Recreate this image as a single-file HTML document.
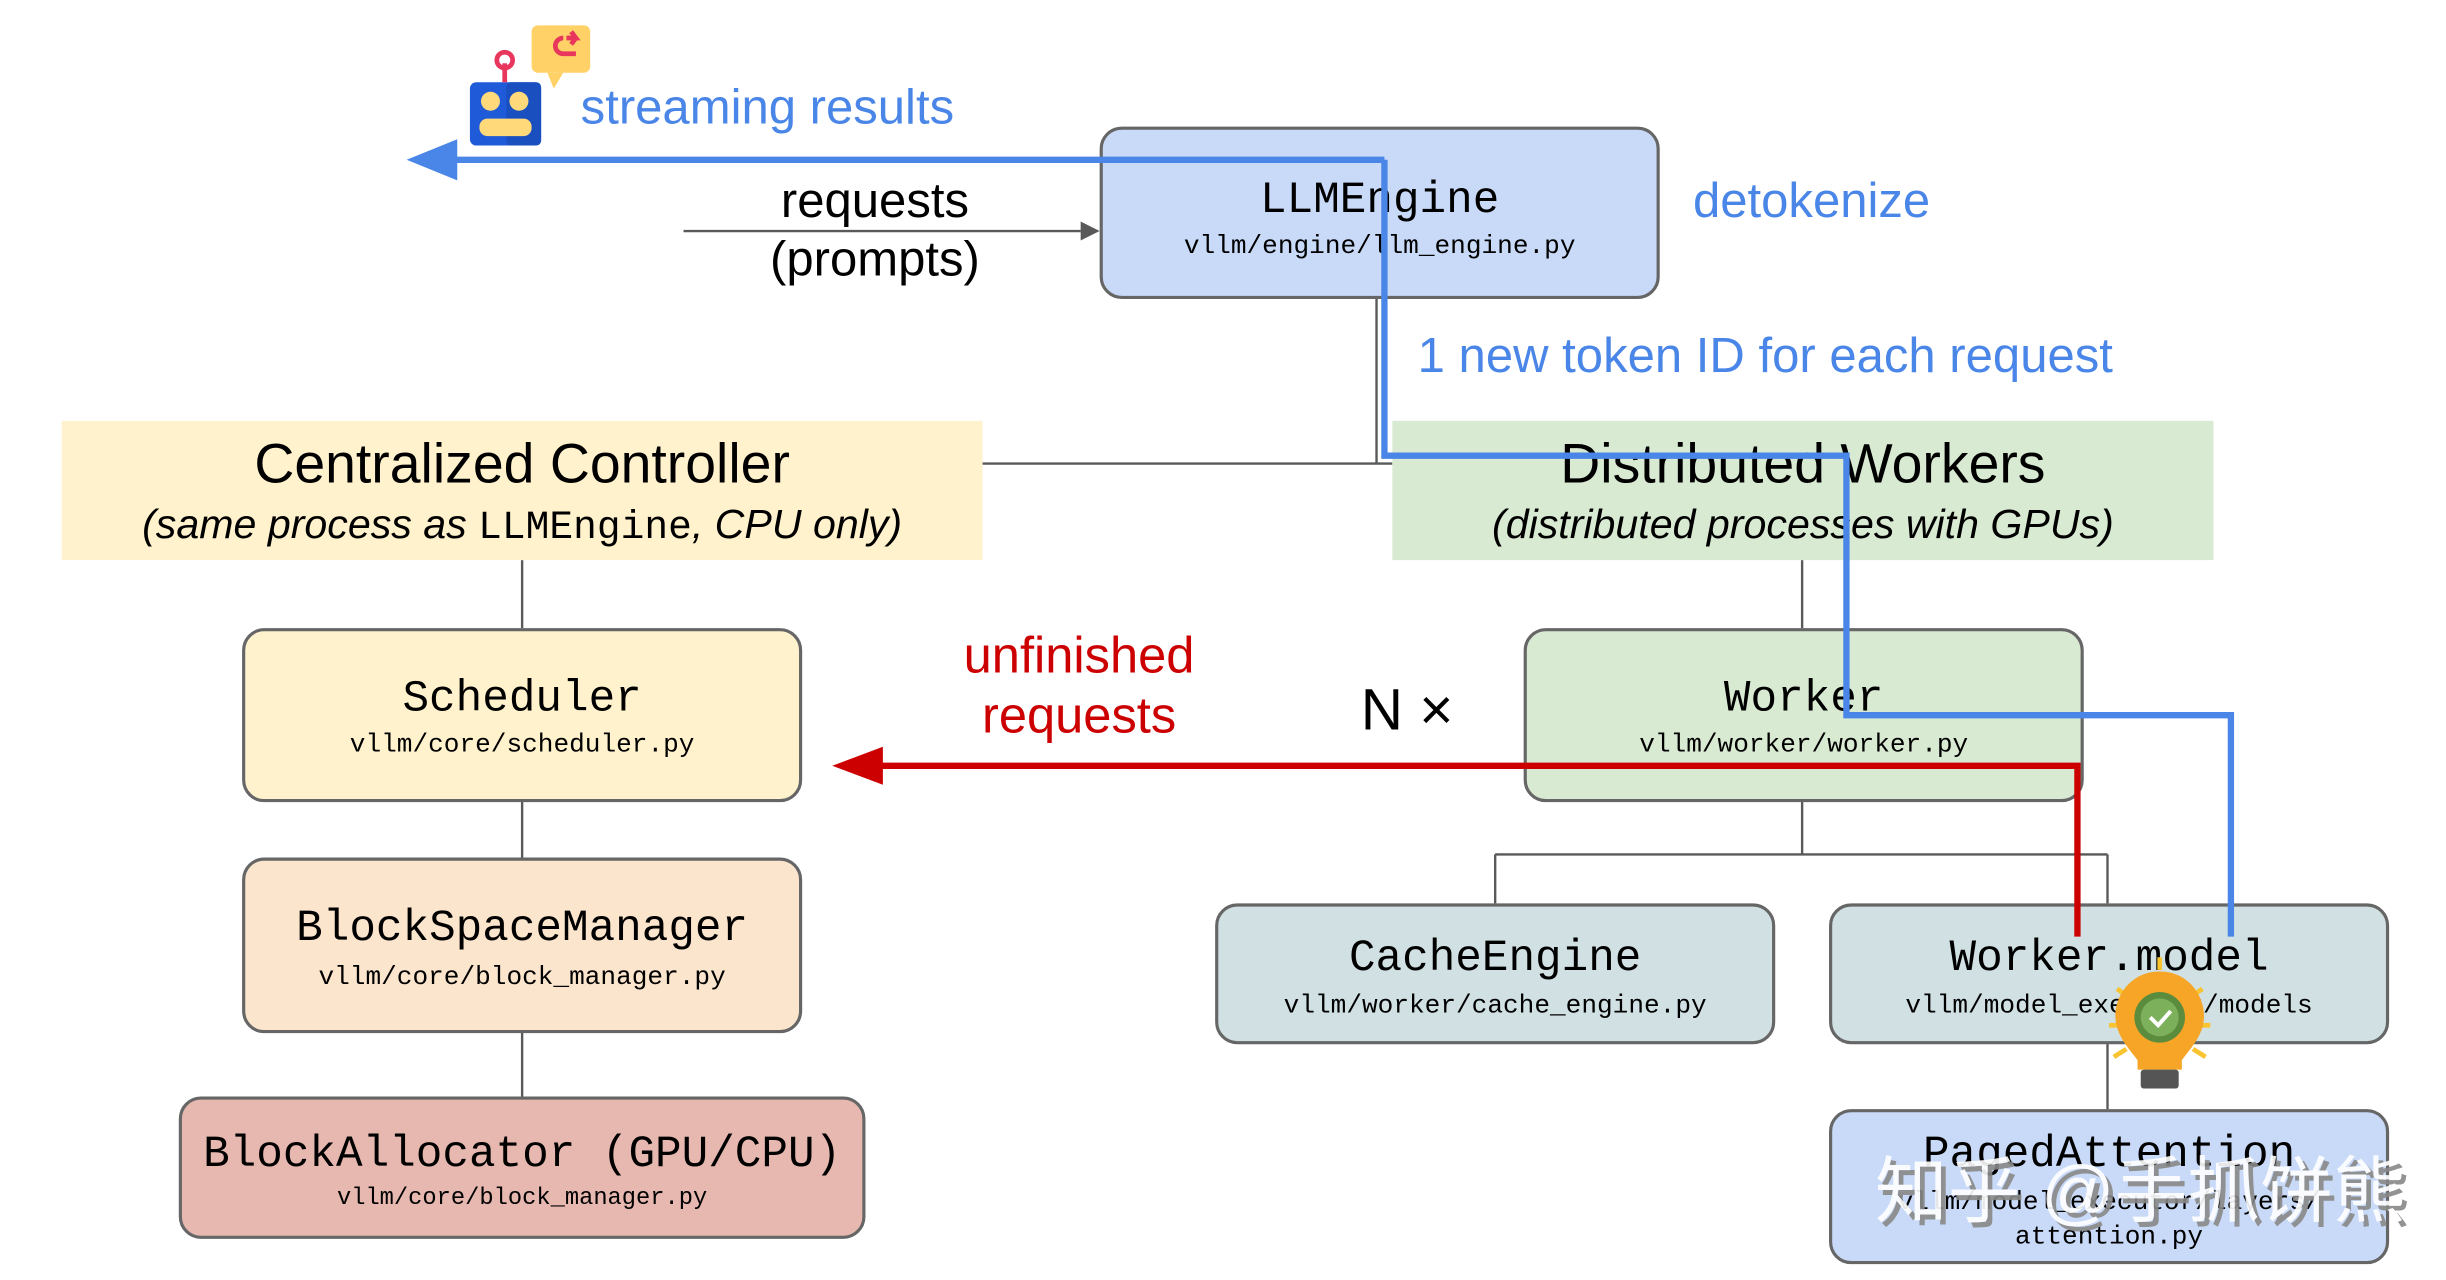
<!DOCTYPE html>
<html><head><meta charset="utf-8"><style>
html,body{margin:0;padding:0;background:#fff;width:2446px;height:1280px;overflow:hidden}
#s{position:absolute;left:0;top:0;width:1546px;height:809px;transform:scale(1.5822);transform-origin:0 0}
.b{position:absolute;box-sizing:border-box;border:2px solid #666;border-radius:14px;text-align:center;font-family:"Liberation Mono",monospace;color:#000}
.t{position:absolute;left:0;right:0;font-size:28px;line-height:1}
.p{position:absolute;left:0;right:0;font-size:16.5px;line-height:1}
.l{position:absolute;font-family:"Liberation Sans",sans-serif;white-space:nowrap;line-height:1}
</style></head><body><div id="s">
<svg width="1546" height="809" style="position:absolute;left:0;top:0">
<g stroke="#595959" stroke-width="1.5" fill="none">
<path d="M432 146H683"/>
<path d="M870 188V293M621 293H880"/>
<path d="M330 354V397M330 506V542M330 652V693"/>
<path d="M1139 354V397M1139 506V540M945 540H1332M945 540V571M1332 540V571M1332 659V701"/>
</g>
<path d="M683 140L695 146L683 152Z" fill="#595959"/>
</svg>
<div class="b" style="left:695px;top:80px;width:354px;height:109px;background:#c9daf8"><div class="t" style="top:32px">LLMEngine</div><div class="p" style="top:66px">vllm/engine/llm_engine.py</div></div>
<div style="position:absolute;left:39px;top:266px;width:582px;height:88px;background:#fff2cc"></div>
<div style="position:absolute;left:880px;top:266px;width:519px;height:88px;background:#d9ead3"></div>
<div class="l" style="left:39px;width:582px;text-align:center;top:276px;font-size:35px">Centralized Controller</div>
<div class="l" style="left:39px;width:582px;text-align:center;top:318px;font-size:26px;font-style:italic">(same process as <span style="font-family:'Liberation Mono',monospace;font-style:normal;font-size:25px">LLMEngine</span>, CPU only)</div>
<div class="l" style="left:880px;width:519px;text-align:center;top:276px;font-size:35px">Distributed Workers</div>
<div class="l" style="left:880px;width:519px;text-align:center;top:318px;font-size:26px;font-style:italic">(distributed processes with GPUs)</div>
<div class="b" style="left:153px;top:397px;width:354px;height:110px;background:#fff2cc"><div class="t" style="top:30px">Scheduler</div><div class="p" style="top:64px">vllm/core/scheduler.py</div></div>
<div class="b" style="left:153px;top:542px;width:354px;height:111px;background:#fce5cd"><div class="t" style="top:30px">BlockSpaceManager</div><div class="p" style="top:66px">vllm/core/block_manager.py</div></div>
<div class="b" style="left:113px;top:693px;width:434px;height:90px;background:#e6b8af"><div class="t" style="top:22px">BlockAllocator (GPU/CPU)</div><div class="p" style="top:55px;font-size:15px">vllm/core/block_manager.py</div></div>
<div class="b" style="left:963px;top:397px;width:354px;height:110px;background:#d9ead3"><div class="t" style="top:30px">Worker</div><div class="p" style="top:64px">vllm/worker/worker.py</div></div>
<div class="b" style="left:768px;top:571px;width:354px;height:89px;background:#d0e0e3"><div class="t" style="top:20px">CacheEngine</div><div class="p" style="top:55px">vllm/worker/cache_engine.py</div></div>
<div class="b" style="left:1156px;top:571px;width:354px;height:89px;background:#d0e0e3"><div class="t" style="top:20px">Worker.model</div><div class="p" style="top:55px">vllm/model_executor/models</div></div>
<div class="b" style="left:1156px;top:701px;width:354px;height:98px;background:#c9daf8"><div class="t" style="top:14px">PagedAttention</div><div class="p" style="top:49px">vllm/model_executor/layers/</div><div class="p" style="top:71px">attention.py</div></div>
<svg width="1546" height="809" style="position:absolute;left:0;top:0">
<path d="M875 101H285M875 101V288H1167V452H1410V592" stroke="#4a86e8" stroke-width="4" fill="none"/>
<path d="M289 88L257 101L289 114Z" fill="#4a86e8"/>
<path d="M1313 592V484H555" stroke="#cc0000" stroke-width="4" fill="none"/>
<path d="M558 472L526 484L558 496Z" fill="#cc0000"/>
<!-- robot -->
<rect x="297" y="52" width="45" height="40" rx="4" fill="#1f5ad8"/>
<rect x="320" y="52" width="22" height="40" rx="3" fill="#1a4fc0"/>
<line x1="319" y1="40" x2="319" y2="52" stroke="#e8365d" stroke-width="3"/>
<circle cx="319" cy="38" r="5" fill="none" stroke="#e8365d" stroke-width="3"/>
<circle cx="310" cy="64" r="6" fill="#ffd97a"/><circle cx="328" cy="64" r="6" fill="#ffd97a"/>
<rect x="303" y="75" width="33" height="11" rx="5" fill="#ffd97a"/>
<rect x="336" y="16" width="37" height="30" rx="4" fill="#ffd166"/>
<path d="M346 46L350 56L356 46Z" fill="#ffd166"/>
<path d="M358 24h6l-3 -4M364 24l-3 4M356 24a5 5 0 0 0 0 10h8" stroke="#e8365d" stroke-width="3" fill="none"/>
<!-- bulb -->
<g stroke="#f8c430" stroke-width="3">
<line x1="1338" y1="625" x2="1347" y2="631"/><line x1="1392" y1="625" x2="1383" y2="631"/>
<line x1="1333" y1="648" x2="1343" y2="648"/><line x1="1397" y1="648" x2="1387" y2="648"/>
<line x1="1336" y1="668" x2="1344" y2="663"/><line x1="1394" y1="668" x2="1386" y2="663"/>
<line x1="1365" y1="605" x2="1365" y2="613"/>
</g>
<path d="M1365 614c-18 0-28 15-28 28 0 12 8 20 14 28v6h28v-6c6-8 14-16 14-28 0-13-10-28-28-28z" fill="#f7a526"/>
<rect x="1353" y="676" width="24" height="12" rx="2" fill="#555"/>
<circle cx="1365" cy="643" r="16" fill="#5b8c3e"/><circle cx="1365" cy="643" r="12" fill="#7cb05a"/>
<path d="M1359 643l5 5 8-9" stroke="#fff" stroke-width="2.5" fill="none"/>
</svg>
<div class="l" style="left:367px;top:52px;font-size:31px;color:#4a86e8">streaming results</div>
<div class="l" style="left:473px;width:160px;text-align:center;top:111px;font-size:31px">requests</div>
<div class="l" style="left:473px;width:160px;text-align:center;top:148px;font-size:31px">(prompts)</div>
<div class="l" style="left:1070px;top:111px;font-size:31px;color:#4a86e8">detokenize</div>
<div class="l" style="left:896px;top:209px;font-size:31px;color:#4a86e8">1 new token ID for each request</div>
<div class="l" style="left:582px;width:200px;text-align:center;top:398px;font-size:32px;color:#cc0000">unfinished</div>
<div class="l" style="left:582px;width:200px;text-align:center;top:436px;font-size:32px;color:#cc0000">requests</div>
<div class="l" style="left:860px;top:430px;font-size:37px">N ×</div>
<div class="l" style="left:1185px;top:730px;font-size:46px;color:#fff;font-family:'Liberation Sans','Noto Sans CJK SC',sans-serif;text-shadow:3px 3px 0 #888;opacity:.9">知乎 @手抓饼熊</div>
</div></body></html>
